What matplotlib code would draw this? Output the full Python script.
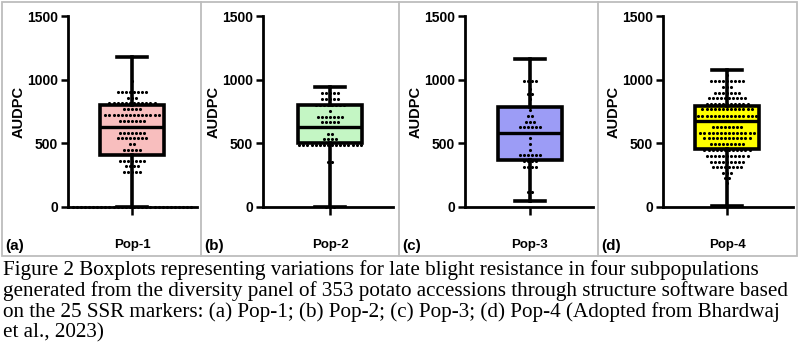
import matplotlib.pyplot as plt
import numpy as np
from matplotlib.patches import Rectangle
from matplotlib.lines import Line2D

plt.rcParams['font.family'] = ['Liberation Sans', 'DejaVu Sans']

W, H = 800, 353

pops = ["Pop-1", "Pop-2", "Pop-3", "Pop-4"]
tags = ["(a)", "(b)", "(c)", "(d)"]
fills = ["#f8bebe", "#c4f6c4", "#9c9cf6", "#ffff00"]

# box summaries (min-max whiskers, GraphPad style)
whislo = [0, 0, 48, 5]
q1 = [412, 500, 366, 454]
med = [632, 628, 583, 673]
q3 = [800, 803, 782, 797]
whishi = [1180, 940, 1166, 1074]

# dot rows: AUDPC level and number of accessions at that level
pop1_vals = [1180, 987, 904, 857, 813, 767, 723, 678, 585, 541, 497, 450, 365, 321, 274, 0]
pop1_counts = [1, 1, 8, 3, 12, 5, 14, 7, 7, 8, 2, 5, 7, 4, 5, 30]

pop2_vals = [940, 892, 852, 800, 755, 710, 668, 576, 531, 489, 352, 0]
pop2_counts = [1, 5, 5, 8, 1, 7, 5, 2, 4, 16, 2, 3]

pop3_vals = [1166, 988, 927, 888, 848, 763, 715, 670, 625, 538, 493, 451, 405, 358, 312, 114, 48]
pop3_counts = [1, 4, 1, 2, 1, 1, 2, 3, 6, 1, 1, 1, 6, 4, 4, 2, 1]

pop4_vals = [1074, 1035, 990, 945, 898, 853, 811, 766, 718, 629, 581, 541, 494,
             449, 404, 356, 317, 264, 225, 185, 5]
pop4_counts = [1, 1, 9, 3, 7, 10, 11, 13, 15, 8, 14, 12, 9, 12, 11, 9, 8, 3, 2, 1, 2]

all_vals = [pop1_vals, pop2_vals, pop3_vals, pop4_vals]
all_counts = [pop1_counts, pop2_counts, pop3_counts, pop4_counts]

# layout in pixels
axis_left = [68, 263, 465, 663]
axis_right = [197, 393, 593, 793]
box_center = [132, 330, 530, 727]
y_top, y_bot = 16, 207
dx = 4.1

fig = plt.figure(figsize=(W / 100, H / 100), dpi=100)

for i in range(4):
    ax = fig.add_axes([axis_left[i] / W, 1 - y_bot / H,
                       (axis_right[i] - axis_left[i]) / W, (y_bot - y_top) / H])
    c = box_center[i]
    ax.set_xlim(axis_left[i] - c, axis_right[i] - c)
    ax.set_ylim(0, 1500)

    stats = [dict(whislo=whislo[i], q1=q1[i], med=med[i], q3=q3[i], whishi=whishi[i])]
    ax.bxp(stats, positions=[0], widths=64, patch_artist=True, showfliers=False,
           boxprops=dict(facecolor=fills[i], edgecolor='black', linewidth=2.6),
           medianprops=dict(color='black', linewidth=2.4),
           whiskerprops=dict(color='black', linewidth=2.6),
           capprops=dict(color='black', linewidth=2.6), capwidths=30,
           manage_ticks=False)

    xs, ys = [], []
    for v, n in zip(all_vals[i], all_counts[i]):
        offs = (np.arange(n) - (n - 1) / 2) * dx
        xs.extend(offs)
        ys.extend([v] * n)
    ax.scatter(xs, ys, s=5, color='black', zorder=5, clip_on=False, linewidths=0)

    for s in ['top', 'right']:
        ax.spines[s].set_visible(False)
    ax.spines['left'].set_linewidth(2)
    ax.spines['bottom'].set_linewidth(2)
    ax.set_yticks([0, 500, 1000, 1500])
    ax.set_xticks([0])
    ax.set_xticklabels([''])
    ax.tick_params(axis='y', direction='out', length=5, width=1.8, pad=2, labelsize=10)
    ax.tick_params(axis='x', direction='out', length=6, width=1.8)
    for lab in ax.get_yticklabels():
        lab.set_fontweight('bold')
    ax.set_ylabel("AUDPC", fontsize=10.5, fontweight='bold', labelpad=1)

    fig.text(c / W, 1 - 245 / H, pops[i], ha='center', va='center',
             fontsize=9.5, fontweight='bold')

# panel frames
px = [2, 201, 399, 598, 797]
for i in range(4):
    fig.text((px[i] + 3) / W, 1 - 246 / H, tags[i], ha='left', va='center',
             fontsize=11, fontweight='bold')
fig.add_artist(Rectangle((px[0] / W, 1 - 256 / H), (px[4] - px[0]) / W, 254 / H,
                         transform=fig.transFigure, fill=False, edgecolor='#bdbdbd',
                         linewidth=1.3))
for x in px[1:4]:
    fig.add_artist(Line2D([x / W, x / W], [1 - 256 / H, 1 - 2 / H],
                          transform=fig.transFigure, color='#bdbdbd', linewidth=1.3))

caption = ("Figure 2 Boxplots representing variations for late blight resistance in four subpopulations\n"
           "generated from the diversity panel of 353 potato accessions through structure software based\n"
           "on the 25 SSR markers: (a) Pop-1; (b) Pop-2; (c) Pop-3; (d) Pop-4 (Adopted from Bhardwaj\n"
           "et al., 2023)")
fig.text(3 / W, 1 - 260 / H, caption, ha='left', va='top', family='Liberation Serif',
         fontsize=15.2, linespacing=1.07)

fig.savefig("out.png", dpi=100)
